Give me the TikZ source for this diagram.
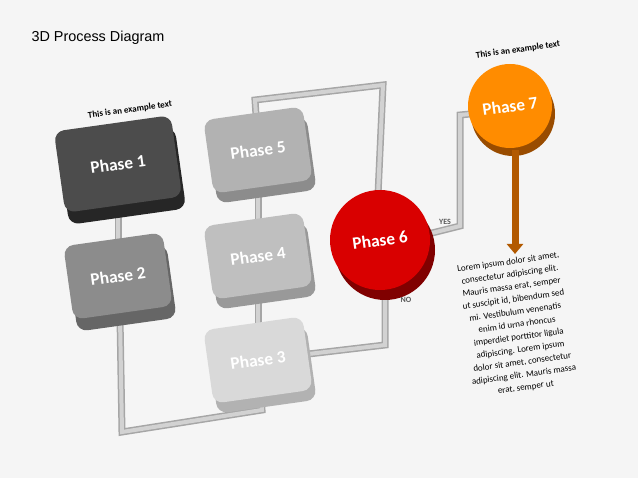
\documentclass[tikz,border=0pt]{standalone}
\usepackage{fontspec}
\setmainfont{Carlito}
\newfontfamily\arialf{Liberation Sans}
\usetikzlibrary{calc,arrows.meta}
\begin{document}
\begin{tikzpicture}[x=1pt,y=-1pt,
 pipe/.style={line width=7pt,draw=gray!70,line join=miter},
 pipein/.style={line width=4pt,draw=gray!35},
 side/.style={rounded corners=10pt,minimum width=100pt,minimum height=74pt,rotate=8},
 face/.style={rounded corners=10pt,minimum width=100pt,minimum height=74pt,rotate=8,text=white,font=\bfseries\LARGE},
 lbl/.style={font=\bfseries\small,rotate=8}]
\fill[gray!8] (0,0) rectangle (638,478);
\useasboundingbox (0,0) rectangle (638,478);
\node[font=\arialf\Large,anchor=west] (title) at (28,38) {3D Process Diagram};
\coordinate (p2b) at (120,318);
\coordinate (c1) at (122,432);
\coordinate (c2) at (262,410);
\coordinate (c3) at (385,345);
\coordinate (c4) at (383,85);
\coordinate (c5) at (255,100);
\coordinate (c6) at (460,226);
\coordinate (c7) at (460,115);
\foreach \s in {pipe,pipein}{
 \draw[\s] (p2b) -- (c1) -- (c2) -- (258,360);
 \draw[\s] (300,355) -- (c3) -- (385,290);
 \draw[\s] (378,195) -- (c4) -- (c5) -- (256,115);
 \draw[\s] (420,236) -- (c6) -- (c7) -- (480,113);
 \draw[\s] (118,210) -- (118,245);
 \draw[\s] (258,185) -- (258,225);
 \draw[\s] (258,290) -- (258,330);
}
\node[side,fill=black!85,minimum width=118pt,minimum height=82pt] at (122,176) {};
\node[face,fill=black!70,minimum width=118pt,minimum height=82pt] (ph1) at (118,164) {Phase 1};
\node[side,fill=black!60] at (122,288) {};
\node[face,fill=black!45] (ph2) at (118,276) {Phase 2};
\node[side,fill=black!45] at (262,160) {};
\node[face,fill=black!30] (ph5) at (258,150) {Phase 5};
\node[side,fill=black!40] at (262,266) {};
\node[face,fill=black!25] (ph4) at (258,256) {Phase 4};
\node[side,fill=black!30] at (262,370) {};
\node[face,fill=black!15] (ph3) at (258,360) {Phase 3};
\fill[red!50!black] (385,250) circle (50);
\node[circle,fill=red!85!black,minimum size=100pt,text=white,font=\bfseries\LARGE] (ph6) at (380,240) {\rotatebox{8}{Phase 6}};
\fill[orange!60!black] (513,114) circle (42);
\node[circle,fill=orange!90!yellow,minimum size=84pt,text=white,font=\bfseries\LARGE] (ph7) at (510,106) {\rotatebox{8}{Phase 7}};
\coordinate (a1) at (515,254);
\coordinate (a0) at (515,150);
\draw[line width=7pt,draw=orange!70!black,-{Triangle[length=10pt,width=16pt]}] (a0) -- (a1);
\node[lbl] (t1) at (130,110) {This is an example text};
\node[lbl] (t2) at (518,50) {This is an example text};
\node[font=\bfseries\footnotesize,text=gray!70!black] (yes) at (445,222) {YES};
\node[font=\bfseries\footnotesize,text=gray!70!black] (no) at (406,300) {NO};
\node[rotate=8,align=center,font=\small\linespread{1.15}\selectfont,inner sep=0pt] (txt) at (517,325) {Lorem ipsum dolor sit amet,\\consectetur adipiscing elit.\\Mauris massa erat, semper\\ut suscipit id, bibendum sed\\mi. Vestibulum venenatis\\enim id urna rhoncus\\imperdiet porttitor ligula\\adipiscing. Lorem ipsum\\dolor sit amet, consectetur\\adipiscing elit. Mauris massa\\erat, semper ut};
\end{tikzpicture}
\end{document}
